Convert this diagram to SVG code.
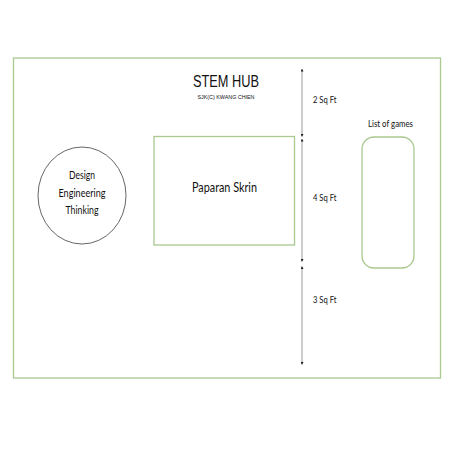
<svg xmlns="http://www.w3.org/2000/svg" width="453" height="453" viewBox="0 0 453 453">
<defs>
<marker id="ah" viewBox="0 0 6 6" refX="3" refY="3" markerWidth="3" markerHeight="3" orient="auto-start-reverse" markerUnits="userSpaceOnUse">
<path d="M0,0 L6,3 L0,6 z" fill="#222"/>
</marker>
<style>
.g{fill:none;stroke:#a9c98f;stroke-width:1.3}
.t{font-family:Lato,"Open Sans",sans-serif;fill:#111}
.a{font-family:"Liberation Sans",Arial,sans-serif}
.dim{stroke:#bbb;stroke-width:1.5;marker-start:url(#ah);marker-end:url(#ah)}
</style>
</defs>
<rect width="453" height="453" fill="#fff"/>
<g id="frame"><rect class="g" x="13.5" y="58" width="427" height="320"/></g>
<g id="title">
<text class="t a" x="226" y="86.5" text-anchor="middle" font-size="16" textLength="66" lengthAdjust="spacingAndGlyphs">STEM HUB</text>
<text class="t a" x="226" y="99" text-anchor="middle" font-size="5.3" fill="#333" textLength="57" lengthAdjust="spacingAndGlyphs">SJK(C) KWANG CHIEN</text>
</g>
<g id="design">
<ellipse cx="82" cy="195.5" rx="44" ry="48.5" fill="none" stroke="#555" stroke-width="0.9"/>
<text class="t" x="82" y="179" text-anchor="middle" font-size="10.5" textLength="26" lengthAdjust="spacingAndGlyphs">Design</text>
<text class="t" x="82" y="196.5" text-anchor="middle" font-size="10.5" textLength="47" lengthAdjust="spacingAndGlyphs">Engineering</text>
<text class="t" x="82" y="214" text-anchor="middle" font-size="10.5" textLength="33" lengthAdjust="spacingAndGlyphs">Thinking</text>
</g>
<g id="screen">
<rect class="g" x="154" y="136.5" width="140.5" height="108.5"/>
<text class="t" x="224.5" y="191.5" text-anchor="middle" font-size="13.5" textLength="65" lengthAdjust="spacingAndGlyphs">Paparan Skrin</text>
</g>
<g id="games">
<rect class="g" x="362" y="137" width="52" height="131" rx="12" ry="12"/>
<text class="t" x="390.5" y="127" text-anchor="middle" font-size="9" textLength="45" lengthAdjust="spacingAndGlyphs">List of games</text>
</g>
<g id="connectors">
<line class="dim" x1="302" y1="70" x2="302" y2="135.5"/>
<line class="dim" x1="302" y1="140" x2="302" y2="260.5"/>
<line class="dim" x1="302" y1="267.5" x2="302" y2="363.5"/>
</g>
<g id="labels">
<text class="t" x="313" y="103" font-size="9" textLength="23.5" lengthAdjust="spacingAndGlyphs">2 Sq Ft</text>
<text class="t" x="313" y="201" font-size="9" textLength="23.5" lengthAdjust="spacingAndGlyphs">4 Sq Ft</text>
<text class="t" x="313" y="303" font-size="9" textLength="23.5" lengthAdjust="spacingAndGlyphs">3 Sq Ft</text>
</g>
</svg>
